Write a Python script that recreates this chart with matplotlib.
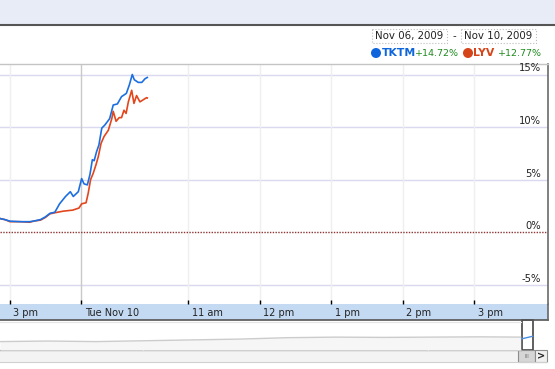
import numpy as np
import matplotlib.pyplot as plt
from matplotlib.patches import Rectangle, Circle
from matplotlib.transforms import blended_transform_factory

# minutes from the Nov 10 open (9:30); negative = last hour of Nov 9
tktm_t = [-68, -64, -59.6, -51, -43, -40, -34, -30, -26, -22, -18, -13, -9, -6.5, -2.3,
          0.5, 2.5, 5.3, 7.5, 9.5, 11, 13, 15, 17.4, 20, 24, 27, 30.5, 34, 38, 40.5,
          43, 44.7, 48, 51, 53.7, 55.6]
tktm_v = [1.3, 1.2, 1.05, 1.0, 1.0, 1.05, 1.2, 1.45, 1.8, 1.9, 2.7, 3.4, 3.85, 3.4, 3.85,
          5.1, 4.6, 4.5, 5.5, 6.9, 6.8, 7.65, 8.3, 9.9, 10.2, 10.8, 12.1, 12.2, 12.9, 13.2, 14.0,
          15.0, 14.5, 14.25, 14.25, 14.6, 14.72]

lyv_t = [-68, -64, -59.6, -51, -43, -40, -34, -30, -26, -22, -15, -7, -1.7,
         0.5, 4.2, 6, 8, 10.2, 12.5, 14.5, 16.8, 19.3, 22.9, 25.8, 27, 29.4, 32, 34,
         36, 37.8, 39.7, 42.5, 44.4, 46.6, 49.4, 52.2, 55, 55.6]
lyv_v = [1.3, 1.2, 1.0, 1.0, 0.95, 1.05, 1.15, 1.4, 1.75, 1.85, 2.0, 2.1, 2.3,
         2.7, 2.8, 3.7, 5.0, 5.6, 6.4, 7.2, 8.45, 9.1, 9.7, 10.8, 11.5, 10.55, 10.9, 10.9,
         11.6, 11.3, 12.4, 13.5, 12.25, 13.0, 12.4, 12.6, 12.8, 12.77]

tick_pos = [-60, 0, 90, 150, 210, 270, 330]
tick_labels = ['3 pm', 'Tue Nov 10', '11 am', '12 pm', '1 pm', '2 pm', '3 pm']
y_ticks = [-5, 0, 5, 10, 15]

date_from = 'Nov 06, 2009'
date_to = 'Nov 10, 2009'
symbols = ['TKTM', 'LYV']
changes = ['+14.72%', '+12.77%']

# overview strip: longer history (sessions) and the selected window
nav_session = [0, 4, 8, 12, 16, 20, 24, 28, 32, 36, 40, 43.4]
nav_level = [-1.0, -0.9, -1.0, -0.85, -0.7, -0.55, -0.3, -0.2, -0.25, -0.2, -0.15, -0.2]
sel_session = [43.5, 44.4]
sel_level = [-0.5, -0.05]

BLUE = '#1c6fe0'
RED = '#e2461c'
GREEN = '#1f8a1f'

W, H = 555, 369


def box(x0, y0, x1, y1):
    return [x0 / W, 1 - y1 / H, (x1 - x0) / W, (y1 - y0) / H]


fig = plt.figure(figsize=(W / 100, H / 100), dpi=100, facecolor='white')

# ui layer in pixel units
ui = fig.add_axes([0, 0, 1, 1], zorder=0)
ui.set_xlim(0, W)
ui.set_ylim(H, 0)
ui.axis('off')

ui.add_patch(Rectangle((0, 0), W, 24, fc='#e8ecf7', ec='none'))
ui.plot([0, W], [24.5, 24.5], color='#555555', lw=1.5)

# date range boxes
for x0, txt in [(372, date_from), (461, date_to)]:
    ui.add_patch(Rectangle((x0, 29), 75, 14, fill=False, ec='#bdbdbd', lw=0.8, ls=':'))
    ui.text(x0 + 37.5, 36.5, txt, ha='center', va='center', fontsize=7.4, color='#222222')
ui.text(454, 36, '-', ha='center', va='center', fontsize=7.4, color='#222222')

# legend
ui.add_patch(Circle((376, 53), 5, fc='#0f66dc', ec='none'))
ui.text(381.5, 53.5, symbols[0], ha='left', va='center', fontsize=7.8,
        fontweight='bold', color='#0f66dc')
ui.text(415, 53.5, changes[0], ha='left', va='center', fontsize=6.8, color=GREEN)
ui.add_patch(Circle((468, 53), 5, fc='#d6441a', ec='none'))
ui.text(473.5, 53.5, symbols[1], ha='left', va='center', fontsize=7.8,
        fontweight='bold', color='#d6441a')
ui.text(498, 53.5, changes[1], ha='left', va='center', fontsize=6.8, color=GREEN)

# time axis band
ui.add_patch(Rectangle((0, 304), 547.5, 16, fc='#c4daf2', ec='none'))
ui.plot([0, 548], [320, 320], color='#555555', lw=1.2)
ui.plot([547.5, 547.5], [304, 320], color='#666666', lw=1.2)

# overview strip + scrollbar
ui.plot([0, 521], [322, 322], color='#e4e4e4', lw=0.8)
ui.plot([0, 521], [350, 350], color='#a8a8a8', lw=1)
ui.add_patch(Rectangle((0, 350.5), 547, 11.5, fc='#f3f3f3', ec='none'))
ui.plot([0, 547], [362, 362], color='#d0d0d0', lw=0.8)
for xt in [143, 428]:
    ui.plot([xt, xt], [346, 350], color='#cfcfcf', lw=0.8)
ui.add_patch(Rectangle((521.5, 320), 11.5, 30, fill=False, ec='#444444', lw=1.2))
ui.add_patch(Rectangle((518, 350), 17, 12, fc='#d6d6d6', ec='#8c8c8c', lw=0.8))
ui.text(526.5, 356, 'III', ha='center', va='center', fontsize=4, color='#777777')
ui.add_patch(Rectangle((535, 350), 12, 12, fc='#f0f0f0', ec='#8c8c8c', lw=0.8))
ui.text(541, 356, '>', ha='center', va='center', fontsize=7, fontweight='bold', color='#222222')

nav = fig.add_axes(box(0, 322, 547, 350), zorder=1)
nav.set_xlim(0, 45.6)
nav.set_ylim(-2.5, 2.5)
nav.axis('off')
nav.fill_between(nav_session, nav_level, -2.5, color='#f6f6f6', lw=0)
nav.plot(nav_session, nav_level, color='#cccccc', lw=1)
nav.plot(sel_session, sel_level, color='#4a8ee6', lw=1)

# main chart
ax = fig.add_axes(box(0, 64, 547.5, 304), zorder=2)
ax.set_facecolor('white')
ax.set_xlim(-68, 391.4)
ax.set_ylim(-6.83, 16.0)

for y in y_ticks:
    if y != 0:
        ax.axhline(y, color='#d9d9ef', lw=1, zorder=1)
for t in tick_pos:
    ax.axvline(t, color='#c9c9c9' if t == 0 else '#efefef', lw=1, zorder=1)
ax.axhline(0, color='#8f3535', lw=1, ls=(0, (1, 1)), zorder=2)

ax.plot(lyv_t, lyv_v, color=RED, lw=1.2, zorder=3)
ax.plot(tktm_t, tktm_v, color=BLUE, lw=1.2, zorder=4)

trans = blended_transform_factory(ax.transAxes, ax.transData)
for y in y_ticks:
    ax.text(0.988, y + 0.1, f'{y}%', transform=trans, ha='right', va='bottom',
            fontsize=7.2, color='#222222', zorder=5)

ax.set_xticks(tick_pos)
ax.set_yticks([])
ax.tick_params(axis='x', direction='in', length=3, width=1, color='black', labelbottom=False)
for t, lab in zip(tick_pos, tick_labels):
    ax.annotate(lab, xy=(t, 0), xycoords=('data', 'axes fraction'), xytext=(3.5, -8.5),
                textcoords='offset pixels', ha='left', va='center', fontsize=7,
                color='#222222', annotation_clip=False)

for s in ['left', 'bottom']:
    ax.spines[s].set_visible(False)
ax.spines['top'].set_color('#c4c4c4')
ax.spines['top'].set_linewidth(1)
ax.spines['right'].set_color('#6a6a6a')
ax.spines['right'].set_linewidth(1.2)

fig.savefig('out.png', dpi=100, facecolor='white')
